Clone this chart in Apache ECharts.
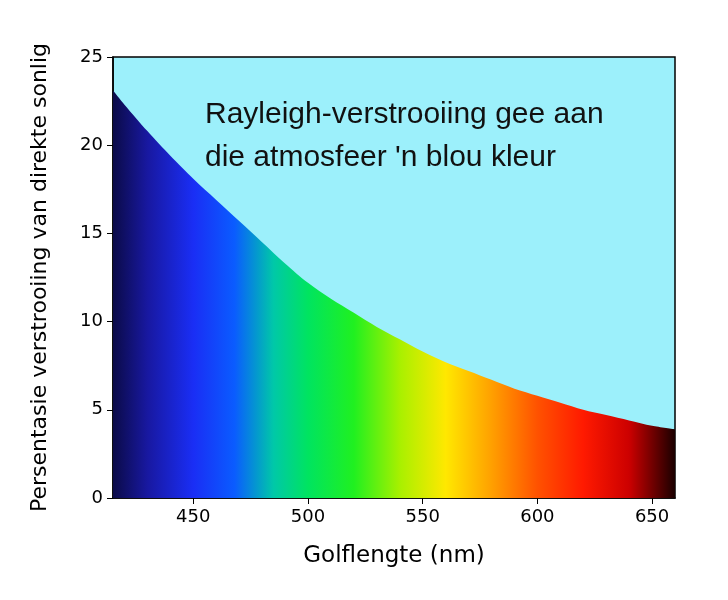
<!DOCTYPE html>
<html><head><meta charset="utf-8">
<script src="https://cdn.jsdelivr.net/npm/echarts@6/dist/echarts.min.js"></script>
<style>html,body{margin:0;padding:0;background:#fff}#c{width:728px;height:600px}</style>
</head><body><div id="c"></div>
<script>
const wavelengths=[415,420,430,440,450,460,470,480,490,500,510,520,530,540,550,560,570,580,590,600,610,620,630,640,650,660];
const scattering=[23.1,22.3,20.8,19.4,18.1,16.9,15.7,14.5,13.3,12.2,11.3,10.5,9.7,9.0,8.3,7.7,7.2,6.7,6.2,5.8,5.4,5.0,4.7,4.4,4.1,3.9];
const xTicks=[450,500,550,600,650];
const title1="Rayleigh-verstrooiing gee aan";
const title2="die atmosfeer 'n blou kleur";
const spec=[[415,'#0b0b48'],[430,'#1818a0'],[450,'#1a2ef5'],[468,'#0a5cff'],[485,'#00c8a8'],[500,'#00e460'],[520,'#20f020'],[540,'#a8f000'],[560,'#ffe800'],[580,'#ffa000'],[600,'#ff5200'],[620,'#ff1a00'],[640,'#cc0000'],[660,'#1a0000']];
const chart=echarts.init(document.getElementById('c'));
chart.setOption({
 animation:false,
 grid:{left:113,right:53,top:57,bottom:102,show:true,backgroundColor:'#9cf0fb',borderColor:'#000',borderWidth:1.5},
 xAxis:{type:'value',min:415,max:660,name:'Golflengte (nm)',nameLocation:'middle',nameGap:47,
  nameTextStyle:{fontSize:23,color:'#000',fontFamily:'DejaVu Sans'},
  axisLine:{show:true,lineStyle:{color:'#000',width:1.5}},
  axisTick:{show:true,length:6,customValues:xTicks,lineStyle:{color:'#000'}},
  axisLabel:{customValues:xTicks,fontSize:18,color:'#000',fontFamily:'DejaVu Sans',margin:10},
  splitLine:{show:false}},
 yAxis:{type:'value',min:0,max:25,interval:5,name:'Persentasie verstrooiing van direkte sonlig',nameLocation:'middle',nameGap:62,
  nameTextStyle:{fontSize:22,color:'#000',fontFamily:'DejaVu Sans'},
  axisLine:{show:true,lineStyle:{color:'#000',width:1.5}},
  axisTick:{show:true,length:6,lineStyle:{color:'#000'}},
  axisLabel:{fontSize:18,color:'#000',fontFamily:'DejaVu Sans',margin:10},
  splitLine:{show:false}},
 series:[{type:'line',smooth:0.3,symbol:'none',lineStyle:{width:0},
  data:wavelengths.map((w,i)=>[w,scattering[i]]),
  areaStyle:{opacity:1,color:new echarts.graphic.LinearGradient(0,0,1,0,spec.map(s=>({offset:(s[0]-415)/245,color:s[1]})))}}],
 graphic:[
  {type:'text',left:205,top:100,style:{text:title1,fontSize:30,fill:'#111',fontFamily:'Liberation Sans'}},
  {type:'text',left:205,top:143,style:{text:title2,fontSize:30,fill:'#111',fontFamily:'Liberation Sans'}}
 ]
});
</script></body></html>
